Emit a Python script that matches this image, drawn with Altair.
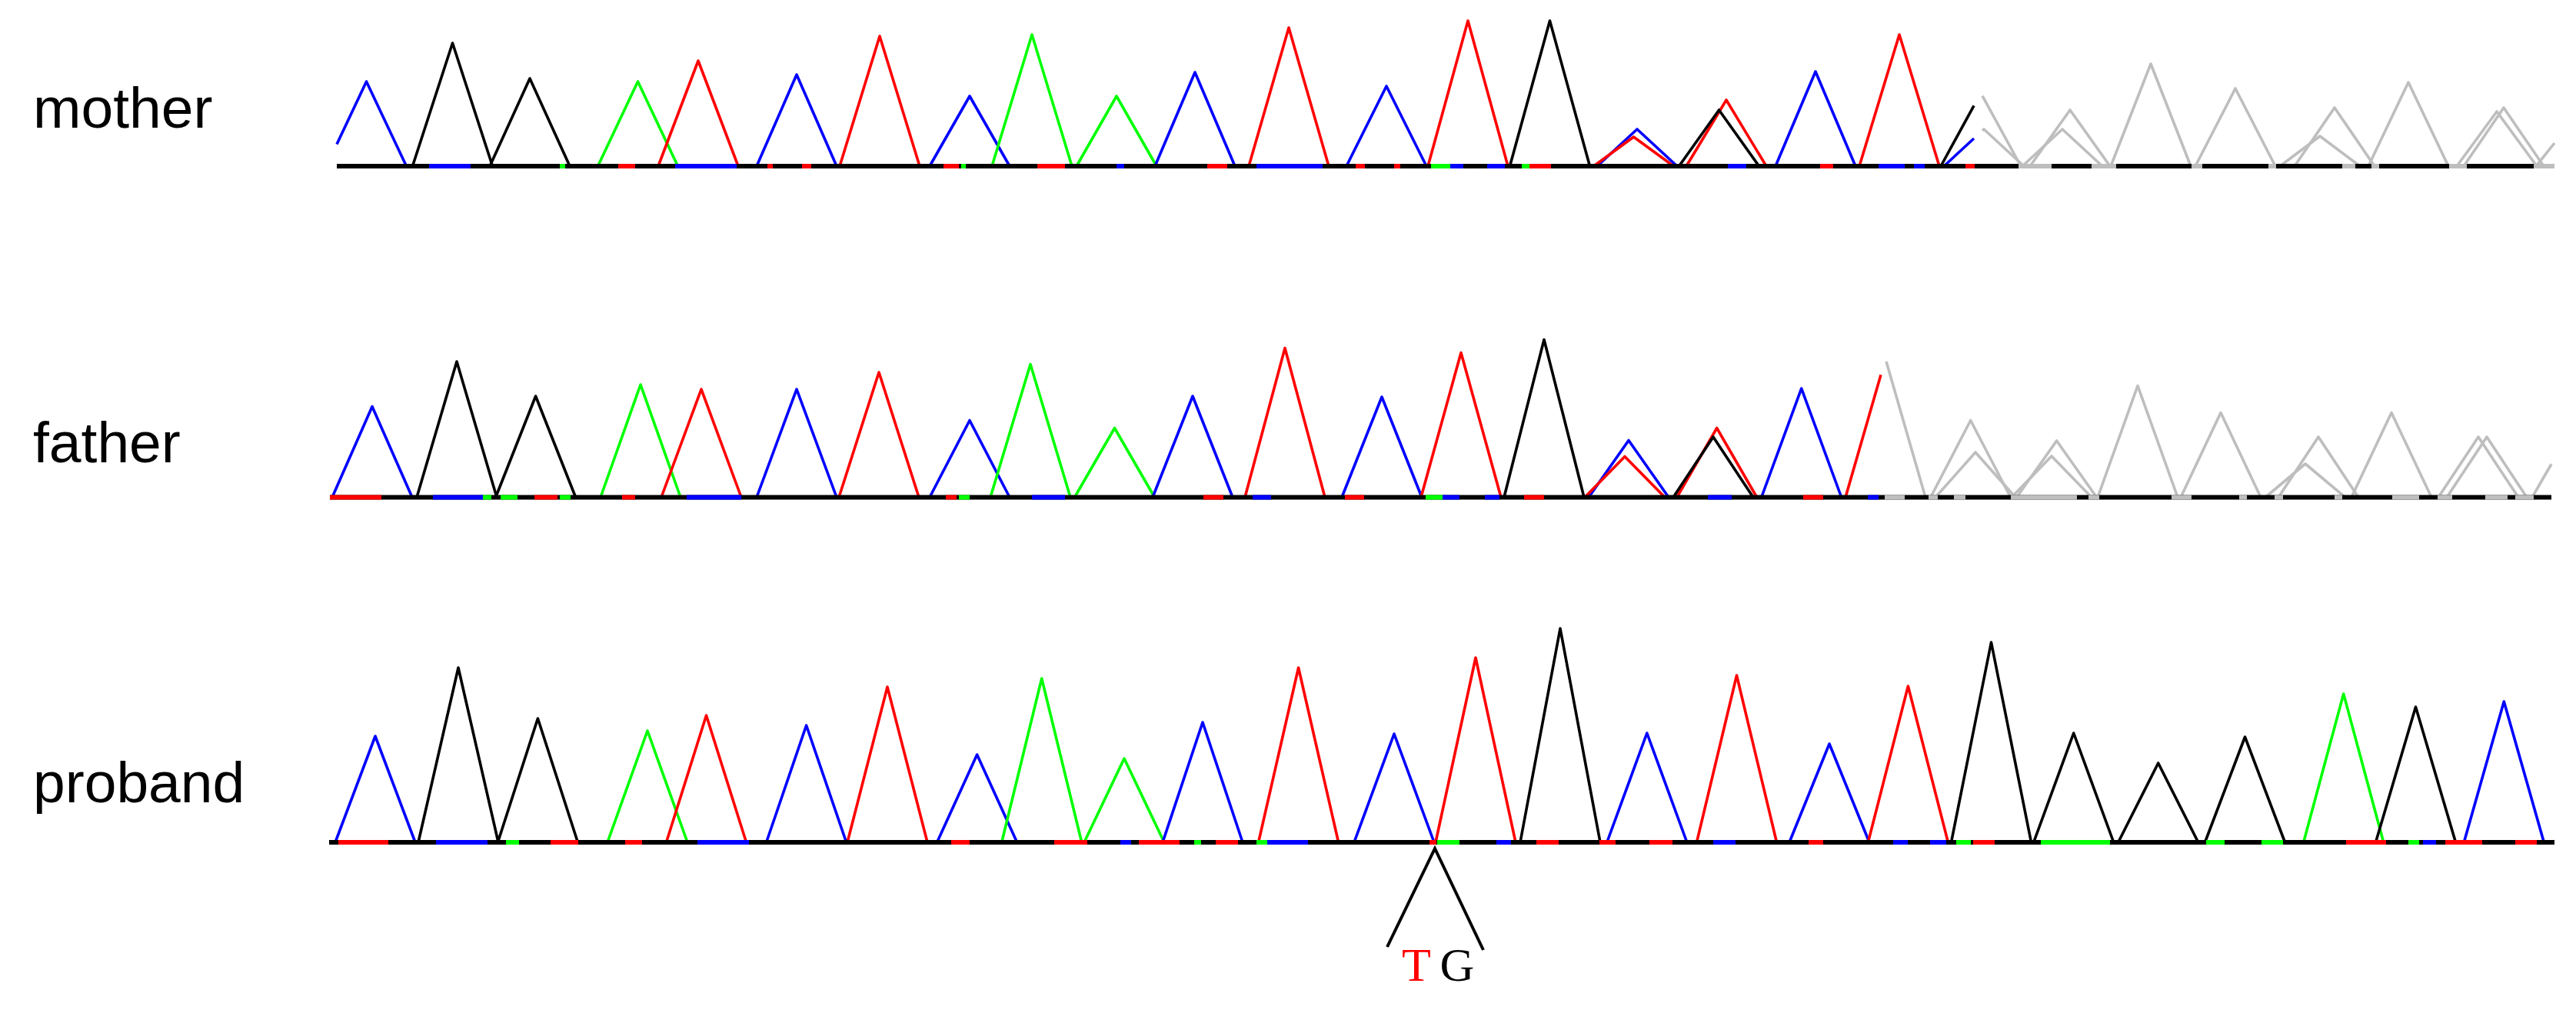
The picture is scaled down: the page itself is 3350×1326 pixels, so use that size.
import altair as alt
import pandas as pd

# ---- base-call colours (ABI convention) ----
BASES = ["A", "C", "G", "T", "N"]
BASE_COLORS = ["#00FF00", "#0000FF", "#000000", "#FF0000", "#BEBEBE"]

HALF_WIDTH = 52  # half base-width of a peak, in scan units

# ---- mother ----
MOTHER_POS = [476.5, 588.5, 689, 829.5, 908, 1036, 1144, 1261, 1342, 1452, 1554, 1676, 1803, 1909,
              2015.5, 2129, 2124.5, 2245, 2235.5, 2361, 2470, 2576, 2580, 2692, 2682, 2797, 2907,
              3036, 3017, 3132, 3247, 3256, 3350]
MOTHER_HEIGHT = [110, 160, 114, 110, 137, 119, 169, 91, 171, 91, 122, 180, 104, 189, 189, 48, 38,
                 86, 73, 123, 171, 95, 48, 73, 48, 133, 101, 76, 39, 109, 71, 76, 65]
MOTHER_BASE = ["C", "G", "G", "A", "T", "C", "T", "C", "A", "A", "C", "T", "C", "T", "G", "C", "T",
               "T", "G", "C", "T", "G", "C", "N", "N", "N", "N", "N", "N", "N", "N", "N", "N"]
MOTHER_RANGE = (438, 2567, 2578, 3322)  # trace start, coloured end, grey start, trace end
MOTHER_SEGS = [(558, 612, "C"), (728, 735, "A"), (804, 826, "T"), (878, 958, "C"), (998, 1005, "T"),
               (1043, 1055, "T"), (1227, 1247, "T"), (1250, 1256, "A"), (1349, 1385, "T"),
               (1452, 1462, "C"), (1570, 1596, "T"), (1634, 1720, "C"), (1763, 1775, "T"),
               (1813, 1821, "T"), (1861, 1886, "A"), (1886, 1903, "C"), (1934, 1957, "C"),
               (1979, 1989, "A"), (1989, 2017, "T"), (2247, 2271, "C"), (2367, 2384, "T"),
               (2443, 2477, "C"), (2489, 2503, "C"), (2556, 2568, "T"),
               (2625, 2668, "N"), (2720, 2752, "N"), (2850, 2864, "N"), (2950, 2960, "N"),
               (3046, 3063, "N"), (3084, 3094, "N"), (3185, 3208, "N"), (3295, 3322, "N")]

# ---- father ----
FATHER_POS = [484, 594, 696.6, 833, 912, 1036, 1143, 1261, 1340, 1449.5, 1551, 1671, 1797, 1900,
              2008, 2118, 2113, 2232.7, 2228, 2342.7, 2452, 2562.7, 2569, 2674.6, 2668, 2780, 2888,
              3015, 2998, 3110, 3223, 3234, 3345]
FATHER_HEIGHT = [118, 176.5, 131.5, 146.5, 140.5, 140.5, 162.5, 100, 173, 90, 131.5, 194, 130.5, 188,
                 205, 74, 53, 90, 78.5, 141.5, 180, 100, 58.5, 73.5, 53.5, 145, 110, 78.5, 43.5, 110,
                 78.5, 78.5, 90]
FATHER_BASE = ["C", "G", "G", "A", "T", "C", "T", "C", "A", "A", "C", "T", "C", "T", "G", "C", "T",
               "T", "G", "C", "T", "N", "N", "N", "N", "N", "N", "N", "N", "N", "N", "N", "N"]
FATHER_RANGE = (429, 2446, 2453, 3318)
FATHER_SEGS = [(429, 496, "T"), (563, 628, "C"), (628, 639, "A"), (651, 673, "A"), (695, 725, "T"),
               (728, 742, "A"), (809, 826, "T"), (893, 964, "C"), (1230, 1244, "T"), (1247, 1261, "A"),
               (1342, 1385, "C"), (1565, 1591, "T"), (1629, 1653, "C"), (1749, 1774, "T"),
               (1854, 1876, "A"), (1876, 1898, "C"), (1931, 1950, "C"), (1982, 2008, "T"),
               (2221, 2252, "C"), (2345, 2371, "T"), (2429, 2443, "C"),
               (2451, 2477, "N"), (2508, 2520, "N"), (2541, 2556, "N"), (2615, 2701, "N"),
               (2716, 2730, "N"), (2824, 2850, "N"), (2912, 2922, "N"), (2958, 2969, "N"),
               (3036, 3046, "N"), (3111, 3146, "N"), (3170, 3189, "N"), (3232, 3261, "N"),
               (3271, 3295, "N")]

# ---- proband ----
PROBAND_POS = [488, 596, 699.4, 842, 918.5, 1048.6, 1154, 1270.6, 1354.7, 1462, 1564, 1688.6, 1813,
               1919, 2029, 2141.8, 2258.5, 2379, 2481.4, 2589.5, 2696.7, 2806.7, 2919.5, 3047.7,
               3141.5, 3256.3]
PROBAND_HEIGHT = [138, 227, 161, 145, 165, 152, 202, 114, 213, 109, 156, 227, 141, 240, 278, 142,
                  217, 128, 203, 260, 142, 103, 137, 193, 176, 183]
PROBAND_BASE = ["C", "G", "G", "A", "T", "C", "T", "C", "A", "A", "C", "T", "C", "T", "G", "C", "T",
                "C", "T", "G", "G", "G", "G", "A", "G", "C"]
PROBAND_RANGE = (428, 3322, None, 3322)
PROBAND_SEGS = [(440, 505, "T"), (567, 634, "C"), (658, 675, "A"), (716, 752, "T"), (813, 835, "T"),
                (907, 974, "C"), (1237, 1261, "T"), (1371, 1414, "T"), (1457, 1471, "C"),
                (1481, 1534, "T"), (1553, 1562, "A"), (1581, 1610, "T"), (1634, 1648, "A"),
                (1648, 1701, "C"), (1859, 1868, "T"), (1869, 1898, "A"), (1946, 1965, "C"),
                (1998, 2027, "T"), (2080, 2101, "T"), (2145, 2175, "T"), (2228, 2257, "C"),
                (2352, 2371, "T"), (2462, 2481, "C"), (2510, 2531, "C"), (2544, 2563, "A"),
                (2566, 2594, "T"), (2654, 2744, "A"), (2869, 2893, "A"), (2941, 2969, "A"),
                (3051, 3103, "T"), (3132, 3146, "A"), (3151, 3168, "C"), (3180, 3228, "T"),
                (3271, 3299, "T")]

# ---- heterozygous site annotation (proband) ----
FORK_X = [1804, 1866, 1929]
FORK_Y = [-136, -8, -140]
ALLELES = ["T", "G"]
ALLELE_X = [1842, 1895]
ALLELE_Y = [-180, -180]

X_SCALE = alt.Scale(domain=[8, 3342], nice=False, zero=False)
COLOR = alt.Color("base:N", scale=alt.Scale(domain=BASES, range=BASE_COLORS), legend=None)
WIDTH = 3334


def clip(pts, a, b):
    out = []
    for (x0, y0), (x1, y1) in zip(pts[:-1], pts[1:]):
        lo, hi = max(x0, a), min(x1, b)
        if lo >= hi:
            continue
        for xq in (lo, hi):
            yq = y0 + (y1 - y0) * (xq - x0) / (x1 - x0)
            if not out or abs(out[-1][0] - xq) > 1e-9:
                out.append((xq, yq))
    return out


def trace_frame(pos, height, base, rng):
    start, color_end, gray_start, end = rng
    rows = []
    for i, (p, h, b) in enumerate(zip(pos, height, base)):
        pts = [(p - HALF_WIDTH, 0.0), (p, h), (p + HALF_WIDTH, 0.0)]
        parts = [(clip(pts, start, color_end), b, "c")]
        if gray_start is not None:
            parts.append((clip(pts, gray_start, end), "N", "g"))
        for seg, bb, tag in parts:
            if len(seg) < 2:
                continue
            for k, (x, y) in enumerate(seg):
                rows.append({"x": x, "y": y, "base": bb, "id": f"{i}{tag}", "k": k})
    return pd.DataFrame(rows)


def panel(name, pos, height, base, rng, segs, height_px, baseline_from_top, label_y, extra=()):
    ys = alt.Scale(domain=[baseline_from_top - height_px, baseline_from_top], nice=False, zero=False)
    df = trace_frame(pos, height, base, rng)
    traces = alt.Chart(df).mark_line(strokeWidth=3.6, strokeJoin="round").encode(
        x=alt.X("x:Q", scale=X_SCALE, axis=None),
        y=alt.Y("y:Q", scale=ys, axis=None),
        detail="id:N",
        color=COLOR,
        order="k:Q",
    )
    base_df = pd.DataFrame({"x": [rng[0]], "x2": [rng[3]], "y": [0]})
    baseline = alt.Chart(base_df).mark_rule(strokeWidth=6, color="black").encode(
        x=alt.X("x:Q", scale=X_SCALE, axis=None), x2="x2:Q",
        y=alt.Y("y:Q", scale=ys, axis=None))
    seg_df = pd.DataFrame(segs, columns=["x", "x2", "base"]).assign(y=0)
    segments = alt.Chart(seg_df).mark_rule(strokeWidth=6).encode(
        x=alt.X("x:Q", scale=X_SCALE, axis=None), x2="x2:Q",
        y=alt.Y("y:Q", scale=ys, axis=None), color=COLOR)
    label = alt.Chart(pd.DataFrame({"t": [name]})).mark_text(
        align="left", baseline="alphabetic", font="Liberation Sans", fontSize=75, color="black"
    ).encode(x=alt.value(35), y=alt.value(label_y), text="t:N")
    layers = [traces, baseline, segments, label]
    for make in extra:
        layers.append(make(ys))
    return alt.layer(*layers).properties(width=WIDTH, height=height_px)


def fork(ys):
    df = pd.DataFrame({"x": FORK_X, "y": FORK_Y, "k": range(len(FORK_X))})
    return alt.Chart(df).mark_line(strokeWidth=4, color="black").encode(
        x=alt.X("x:Q", scale=X_SCALE, axis=None),
        y=alt.Y("y:Q", scale=ys, axis=None), order="k:Q")


def alleles(ys):
    df = pd.DataFrame({"base": ALLELES, "x": ALLELE_X, "y": ALLELE_Y})
    return alt.Chart(df).mark_text(
        align="center", baseline="alphabetic", font="Liberation Serif", fontSize=62
    ).encode(x=alt.X("x:Q", scale=X_SCALE, axis=None),
             y=alt.Y("y:Q", scale=ys, axis=None), text="base:N", color=COLOR)


mother = panel("mother", MOTHER_POS, MOTHER_HEIGHT, MOTHER_BASE, MOTHER_RANGE, MOTHER_SEGS,
               392, 208, 158)
father = panel("father", FATHER_POS, FATHER_HEIGHT, FATHER_BASE, FATHER_RANGE, FATHER_SEGS,
               360, 246.5, 200.7)
proband = panel("proband", PROBAND_POS, PROBAND_HEIGHT, PROBAND_BASE, PROBAND_RANGE, PROBAND_SEGS,
                558, 335, 283, extra=(fork, alleles))

chart = alt.vconcat(mother, father, proband, spacing=0).resolve_scale(y="independent").properties(
    padding=0
).configure_view(stroke=None).configure_concat(spacing=0)

chart.save("out.html", embed_options={"renderer": "svg", "actions": False})
